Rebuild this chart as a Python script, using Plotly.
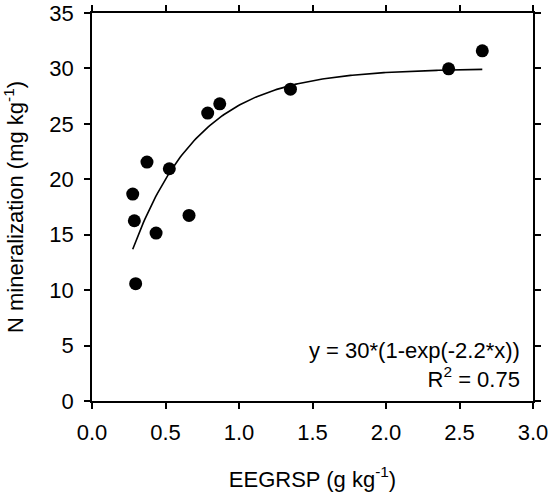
import numpy as np
import plotly.graph_objects as go

# measured points (EEGRSP vs N mineralization)
eegrsp = [0.277, 0.288, 0.297, 0.374, 0.436, 0.526, 0.660, 0.787, 0.869, 1.350, 2.426, 2.655]
n_min = [18.67, 16.26, 10.58, 21.55, 15.15, 20.95, 16.74, 25.97, 26.81, 28.13, 29.96, 31.59]

# fitted model from the chart: y = a*(1-exp(-b*x))
fit_a = 30
fit_b = 2.2
fit_x = np.linspace(min(eegrsp), max(eegrsp), 200)
fit_y = fit_a * (1 - np.exp(-fit_b * fit_x))

font = dict(family="Liberation Sans, Arial, sans-serif", size=22, color="black")

fig = go.Figure()
fig.add_trace(go.Scatter(x=fit_x, y=fit_y, mode="lines",
                         line=dict(color="black", width=1.6), showlegend=False))
fig.add_trace(go.Scatter(x=eegrsp, y=n_min, mode="markers",
                         marker=dict(color="black", size=13), showlegend=False))

fig.add_annotation(x=1, y=0, xref="paper", yref="paper", xanchor="right", yanchor="bottom",
                   xshift=-11, yshift=7, showarrow=False, align="right",
                   text="y = 30*(1-exp(-2.2*x))<br>R<sup>2</sup> = 0.75",
                   font=dict(family=font["family"], size=22, color="black"))

axis_style = dict(showline=True, linecolor="black", linewidth=1.5, mirror="ticks",
                  ticks="outside", ticklen=6, tickwidth=1.5, tickcolor="black",
                  showgrid=False, zeroline=False, tickfont=font, automargin=False)

fig.update_xaxes(range=[0, 3], dtick=0.5, tickformat=".1f", ticklabelstandoff=5,
                 title=dict(text="EEGRSP (g kg<sup>-1</sup>)", font=font, standoff=27),
                 **axis_style)
fig.update_yaxes(range=[0, 35], dtick=5, ticklabelstandoff=6,
                 title=dict(text="N mineralization (mg kg<sup>-1</sup>)", font=font, standoff=22),
                 **axis_style)

fig.update_layout(width=550, height=499, margin=dict(l=92, r=17, t=13, b=98),
                  plot_bgcolor="white", paper_bgcolor="white", font=font)

# drop the default 8px page margin so the figure fills the window, no modebar
fig.write_html("out.html", config={"displayModeBar": False},
               post_script="document.body.style.margin = '0';")
